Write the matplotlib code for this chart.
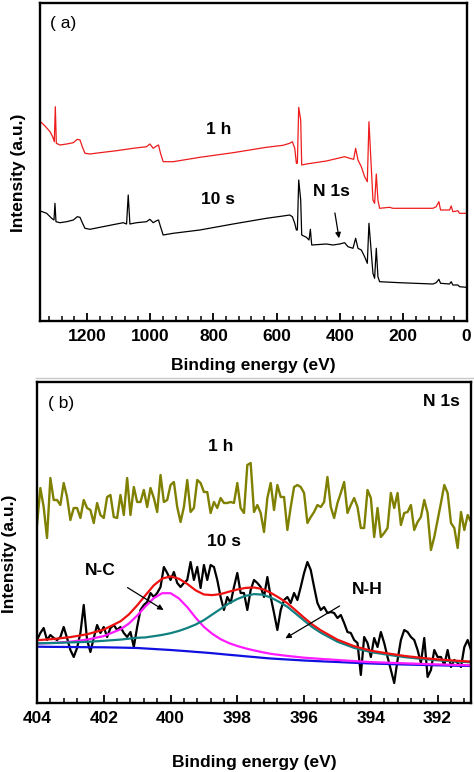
import numpy as np
import matplotlib
matplotlib.use("Agg")
import matplotlib.pyplot as plt
from matplotlib.ticker import MultipleLocator
from matplotlib.lines import Line2D

plt.rcParams['font.family'] = ['Liberation Sans', 'DejaVu Sans']

# =========================
# (a) survey spectra
# =========================
survey_1h_E = [1350, 1332.6, 1316.8, 1308.4, 1303.2, 1300, 1296.8, 1285.3, 1264.2, 1243,
               1230.5, 1222, 1214.7, 1206.3, 1190.5, 1159, 1106.3, 1053.7, 1011.6, 1001,
               990.5, 980, 973.7, 967.4, 959, 927.4, 843, 738, 632.6, 580,
               559, 550.5, 543, 537.9, 534.7, 530.5, 524.2, 521, 506.3, 443,
               385.2, 369.4, 356.8, 350.5, 343.1, 332.6, 322.1, 313.6, 308.4, 295.8,
               290.5, 285.2, 280, 274.7, 243, 232.6, 106.3, 95.7, 87.3, 82,
               53.6, 48.4, 43.1, 27.3, 22, 1]
survey_1h_I = [200.3, 195, 189.3, 184.3, 179.3, 214.3, 177.7, 176, 177, 178.3,
               181.7, 181, 174.3, 167.7, 167, 168.3, 170.3, 172.7, 174.3, 177,
               172.7, 175, 176, 167.7, 159.3, 159.3, 163.7, 168.3, 173.7, 175.7,
               177.7, 179.3, 172.7, 157.7, 157.7, 213.7, 201, 156, 157, 160,
               164.3, 162.7, 161.7, 172.7, 161, 154.3, 144.3, 139.3, 199.3, 121,
               117.7, 147, 121, 112.7, 113.7, 112.7, 112.7, 114.3, 119.3, 111,
               111, 115, 109.3, 110.3, 107.7, 107.7]

survey_10s_E = [1350, 1327.4, 1311.6, 1304.2, 1301.1, 1297.9, 1285.3, 1264.2, 1243, 1230.5,
                1222, 1214.7, 1206.3, 1190.5, 1159, 1106.3, 1085.3, 1074.7, 1069.5, 1064.2,
                1043.1, 1011.6, 1001, 990.5, 980, 973.7, 967.4, 959, 927.4, 843,
                738, 632.6, 580, 559, 550.5, 543, 537.9, 534.7, 530.5, 524.2,
                521, 506.3, 497.9, 493.6, 489.4, 443, 422.1, 401, 385.2, 374.7,
                358.9, 350.5, 343.1, 332.6, 322.1, 313.6, 308.4, 295.8, 290.5, 285.2,
                280, 274.7, 211.5, 106.3, 95.7, 87.3, 82, 53.6, 48.4, 43.1,
                27.3, 22, 1]
survey_10s_I = [110.3, 107.7, 102.7, 101, 117.7, 99.3, 98.3, 99.3, 101, 104.3,
                103.7, 98.3, 92.7, 91.7, 93.7, 97, 98.3, 97, 126, 97,
                98.3, 99.3, 101.7, 98.3, 100.3, 101, 94.3, 86, 87.7, 91,
                97, 102.7, 105, 106, 104.3, 97.7, 91, 91, 141, 121,
                86, 83.7, 81, 91.7, 76, 77, 76, 77, 78.3, 74.3,
                72.7, 82.7, 72.7, 71, 64.3, 57.7, 97.7, 47.7, 42.7, 72.7,
                44.3, 39.3, 38.3, 37, 38.3, 41.7, 37.7, 37, 39.3, 36,
                36, 34.3, 33.7]

# =========================
# (b) N 1s high resolution
# =========================
raw_E = np.linspace(404.0, 391.0, 131)
n1s_1h = [178, 215, 196, 165, 225, 203, 203, 198, 220, 206,
          183, 195, 195, 185, 203, 195, 193, 180, 200, 188,
          185, 206, 208, 186, 185, 208, 188, 225, 188, 216,
          201, 201, 213, 196, 215, 205, 191, 228, 201, 203,
          218, 221, 196, 181, 196, 223, 191, 195, 223, 220,
          211, 211, 190, 201, 195, 205, 200, 200, 201, 200,
          220, 195, 190, 238, 240, 191, 198, 190, 171, 205,
          220, 193, 218, 206, 206, 173, 196, 216, 218, 216,
          210, 180, 186, 191, 198, 196, 201, 226, 196, 185,
          200, 210, 221, 190, 198, 205, 196, 175, 175, 213,
          205, 166, 195, 166, 170, 175, 210, 195, 210, 178,
          190, 191, 198, 173, 181, 186, 203, 190, 153, 166,
          183, 200, 218, 210, 180, 175, 155, 191, 173, 188,
          181]
n1s_10s = [63, 70, 75, 63, 68, 65, 63, 66, 76, 65,
           53, 46, 55, 70, 98, 63, 51, 65, 78, 70,
           76, 66, 75, 78, 73, 76, 70, 66, 71, 56,
           76, 93, 98, 101, 110, 106, 110, 116, 136, 130,
           123, 131, 120, 116, 120, 123, 141, 123, 136, 115,
           138, 123, 138, 136, 123, 106, 93, 106, 100, 116,
           130, 110, 110, 93, 113, 123, 120, 116, 106, 126,
           106, 90, 73, 93, 103, 106, 100, 110, 103, 116,
           130, 141, 133, 116, 100, 93, 96, 90, 91, 90,
           85, 88, 80, 71, 70, 63, 60, 28, 66, 60,
           46, 65, 56, 71, 60, 46, 33, 20, 43, 63,
           73, 71, 66, 63, 53, 40, 65, 26, 33, 53,
           46, 46, 38, 53, 36, 43, 40, 36, 56, 63,
           53]

fit_E = [404, 403.5, 403, 402.5, 402, 401.5, 401.25, 401, 400.75, 400.5,
         400.25, 400, 399.75, 399.5, 399.25, 399, 398.75, 398.5, 398.25, 398,
         397.75, 397.5, 397.25, 397, 396.75, 396.5, 396.25, 396, 395.75, 395.5,
         395, 394.5, 394, 393.5, 393, 392.5, 392, 391.5, 391]
fit_bg = [56.3, 56.1, 56.0, 55.8, 55.7, 55.4, 55.2, 55.0, 54.5, 54.0,
          53.5, 53.0, 52.4, 51.8, 51.1, 50.5, 49.8, 49.0, 48.2, 47.5,
          46.7, 46.0, 45.2, 44.5, 44.0, 43.5, 43.0, 42.5, 42.1, 41.7,
          41.0, 40.2, 39.5, 39.0, 38.5, 38.1, 37.7, 37.3, 37.0]
fit_nc = [3.1, 4.0, 5.3, 7.6, 11.2, 18.3, 24.2, 32.4, 42.2, 50.9,
          56.3, 56.8, 52.2, 44.1, 34.3, 25.6, 19.4, 14.8, 11.7, 9.5,
          7.9, 6.6, 5.6, 4.7, 4.1, 3.6, 3.2, 2.8, 2.6, 2.4,
          2.0, 1.7, 1.4, 1.3, 1.2, 1.0, 0.9, 0.8, 0.7]
fit_nh = [3.4, 3.9, 4.6, 5.3, 6.5, 8.0, 9.1, 10.2, 11.1, 12.8,
          14.6, 16.8, 19.7, 23.2, 27.3, 32.4, 38.7, 45.1, 51.4, 56.5,
          60.5, 62.9, 63.2, 61.0, 57.2, 52.7, 46.4, 40.0, 33.7, 28.6,
          20.3, 14.9, 11.4, 9.3, 7.4, 6.1, 5.0, 4.3, 3.7]

bg = np.array(fit_bg)
nc = bg + np.array(fit_nc)
nh = bg + np.array(fit_nh)
envelope = bg + np.array(fit_nc) + np.array(fit_nh)

W, H = 474, 772
FS = 12.5
fig = plt.figure(figsize=(W / 100, H / 100), dpi=100)


def style_axes(ax, major, minor):
    for s in ax.spines.values():
        s.set_linewidth(1.7)
    ax.set_yticks([])
    ax.xaxis.set_major_locator(MultipleLocator(major))
    ax.xaxis.set_minor_locator(MultipleLocator(minor))
    ax.tick_params(axis='x', which='major', direction='in', length=6, width=1.3,
                   labelsize=FS, pad=6)
    ax.tick_params(axis='x', which='minor', direction='in', length=3.5, width=1.1)
    for lab in ax.get_xticklabels():
        lab.set_fontweight('bold')


# ---- panel (a)
ax1 = fig.add_axes([39.5 / W, 1 - 321 / H, 427 / W, 318 / H])
ax1.plot(survey_1h_E, survey_1h_I, color='#ee1c1c', lw=0.9)
ax1.plot(survey_10s_E, survey_10s_I, color='black', lw=0.9)
ax1.set_xlim(1350, 0)
ax1.set_ylim(0, 318)
style_axes(ax1, 200, 40)
ax1.text(0.025, 0.936, '( a)', transform=ax1.transAxes, fontsize=FS, va='center')
ax1.text(785, 191, '1 h', fontsize=FS, fontweight='bold', ha='center', va='center')
ax1.text(785, 121, '10 s', fontsize=FS, fontweight='bold', ha='center', va='center')
ax1.annotate('N 1s', xy=(403, 82.7), xytext=(427, 129.3), fontsize=FS,
             fontweight='bold', ha='center', va='center',
             arrowprops=dict(arrowstyle='-|>', color='black', lw=0.9,
                             mutation_scale=8, shrinkA=8, shrinkB=0))

# ---- panel (b)
ax2 = fig.add_axes([37 / W, 1 - 703 / H, 434 / W, 321 / H])
ax2.plot(raw_E, n1s_1h, color='#808000', lw=1.7)
ax2.plot(raw_E, n1s_10s, color='black', lw=1.6)
ax2.plot(fit_E, bg, color='#1010e0', lw=1.6)
ax2.plot(fit_E, nc, color='#ff1aff', lw=1.6)
ax2.plot(fit_E, nh, color='#108080', lw=1.6)
ax2.plot(fit_E, envelope, color='#ee1111', lw=1.6)
ax2.set_xlim(404, 391)
ax2.set_ylim(0, 321)
style_axes(ax2, 2, 0.4)
ax2.text(0.025, 0.934, '( b)', transform=ax2.transAxes, fontsize=FS, va='center')
ax2.text(0.932, 0.939, 'N 1s', transform=ax2.transAxes, fontsize=FS,
         fontweight='bold', ha='center', va='center')
ax2.text(398.5, 256.3, '1 h', fontsize=FS, fontweight='bold', ha='center', va='center')
ax2.text(398.4, 161.3, '10 s', fontsize=FS, fontweight='bold', ha='center', va='center')
ax2.annotate('N-C', xy=(400.21, 93), xytext=(402.1, 132.3), fontsize=FS,
             fontweight='bold', ha='center', va='center',
             arrowprops=dict(arrowstyle='-|>', color='black', lw=0.9,
                             mutation_scale=8, shrinkA=9, shrinkB=0))
ax2.annotate('N-H', xy=(396.56, 64.7), xytext=(394.1, 113.7), fontsize=FS,
             fontweight='bold', ha='center', va='center',
             arrowprops=dict(arrowstyle='-|>', color='black', lw=0.9,
                             mutation_scale=8, shrinkA=9, shrinkB=0))

# axis labels
fig.text(253.3 / W, 1 - 365.5 / H, 'Binding energy (eV)', fontsize=FS,
         fontweight='bold', ha='center', va='center')
fig.text(254 / W, 1 - 762 / H, 'Binding energy (eV)', fontsize=FS,
         fontweight='bold', ha='center', va='center')
fig.text(18.5 / W, 1 - 173 / H, 'Intensity (a.u.)', fontsize=FS,
         fontweight='bold', ha='center', va='center', rotation=90)
fig.text(10 / W, 1 - 554 / H, 'Intensity (a.u.)', fontsize=FS,
         fontweight='bold', ha='center', va='center', rotation=90)

# faint separator between the two panels
fig.add_artist(Line2D([36 / W, 1], [1 - 378 / H, 1 - 378 / H],
                      color='#c8c8c8', lw=1.0, transform=fig.transFigure))

fig.savefig('out.png', dpi=100)
